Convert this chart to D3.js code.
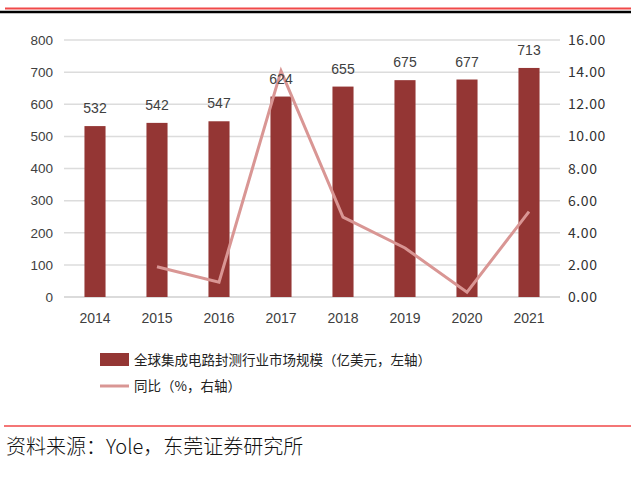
<!DOCTYPE html>
<html>
<head>
<meta charset="utf-8">
<script src="https://cdn.jsdelivr.net/npm/d3@7"></script>
<style>
	body { margin: 0; background: #fff; }
	svg { display: block; }
	.tick-label { font-family: "Liberation Sans", Arial, sans-serif; fill: #404040; }
</style>
</head>
<body>
<svg id="chart" width="631" height="478"></svg>
<script>
// chart data
var years = ['2014', '2015', '2016', '2017', '2018', '2019', '2020', '2021'];
var marketSize = [532, 542, 547, 624, 655, 675, 677, 713];
var yoyYears = ['2015', '2016', '2017', '2018', '2019', '2020', '2021'];
var yoyRate = [1.88, 0.92, 14.08, 4.97, 3.05, 0.30, 5.32];
var leftTicks = [0, 100, 200, 300, 400, 500, 600, 700, 800];
var rightTicks = [0, 2, 4, 6, 8, 10, 12, 14, 16];
var legendLabels = ['全球集成电路封测行业市场规模（亿美元，左轴）', '同比（%，右轴）'];
var sourceText = '资料来源：Yole，东莞证券研究所';

var barColor = '#943634';
var lineColor = '#d99694';

var svg = d3.select('#chart');

// header rules
svg.append('line').attr('x1', 5).attr('x2', 631).attr('y1', 8.5).attr('y2', 8.5)
	.attr('stroke', '#f04848').attr('stroke-width', 2);
svg.append('line').attr('x1', 0).attr('x2', 631).attr('y1', 12).attr('y2', 12)
	.attr('stroke', '#000').attr('stroke-width', 2.5);

var plot = { left: 64, right: 560, top: 40, bottom: 297 };

var x = d3.scaleBand()
	.domain(years)
	.range([plot.left, plot.right])
	.paddingInner(0.66)
	.paddingOuter(0.33);

var yLeft = d3.scaleLinear().domain([0, 800]).range([plot.bottom, plot.top]);
var yRight = d3.scaleLinear().domain([0, 16]).range([plot.bottom, plot.top]);

// gridlines
svg.append('g')
	.selectAll('line')
	.data(leftTicks)
	.enter()
	.append('line')
	.attr('x1', plot.left)
	.attr('x2', plot.right)
	.attr('y1', function(d) { return yLeft(d); })
	.attr('y2', function(d) { return yLeft(d); })
	.attr('stroke', function(d) { return d === 0 ? '#cfcfcf' : '#dcdcdc'; })
	.attr('stroke-width', 1.5);

// left axis labels
svg.append('g')
	.selectAll('text')
	.data(leftTicks)
	.enter()
	.append('text')
	.attr('class', 'tick-label')
	.attr('x', 53)
	.attr('y', function(d) { return yLeft(d); })
	.attr('dy', '0.36em')
	.attr('text-anchor', 'end')
	.style('font-size', '13.5px')
	.text(function(d) { return d; });

// right axis labels
var fmt = d3.format('.2f');
svg.append('g')
	.selectAll('text')
	.data(rightTicks)
	.enter()
	.append('text')
	.attr('x', 568)
	.attr('y', function(d) { return yRight(d); })
	.attr('dy', '0.36em')
	.style('font-family', '"Noto Sans CJK SC", sans-serif')
	.style('font-size', '14px')
	.style('letter-spacing', '0.6px')
	.style('fill', '#333')
	.text(function(d) { return fmt(d); });

// x labels
svg.append('g')
	.selectAll('text')
	.data(years)
	.enter()
	.append('text')
	.attr('class', 'tick-label')
	.attr('x', function(d) { return x(d) + x.bandwidth() / 2; })
	.attr('y', 318)
	.attr('dy', '0.36em')
	.attr('text-anchor', 'middle')
	.style('font-size', '14px')
	.text(function(d) { return d; });

// bars
svg.append('g')
	.selectAll('rect')
	.data(marketSize)
	.enter()
	.append('rect')
	.attr('x', function(d, i) { return x(years[i]); })
	.attr('y', function(d) { return yLeft(d); })
	.attr('width', x.bandwidth())
	.attr('height', function(d) { return plot.bottom - yLeft(d); })
	.attr('fill', barColor);

// yoy line
var line = d3.line()
	.x(function(d, i) { return x(yoyYears[i]) + x.bandwidth() / 2; })
	.y(function(d) { return yRight(d); });

svg.append('path')
	.datum(yoyRate)
	.attr('d', line)
	.attr('fill', 'none')
	.attr('stroke', lineColor)
	.attr('stroke-width', 3)
	.attr('stroke-linejoin', 'miter');

// bar value labels
svg.append('g')
	.selectAll('text')
	.data(marketSize)
	.enter()
	.append('text')
	.attr('class', 'tick-label')
	.attr('x', function(d, i) { return x(years[i]) + x.bandwidth() / 2; })
	.attr('y', function(d) { return yLeft(d) - 13; })
	.attr('text-anchor', 'middle')
	.style('font-size', '14px')
	.text(function(d) { return d; });

// legend
var legend = svg.append('g')
	.style('font-family', '"Noto Sans CJK SC", sans-serif')
	.style('font-size', '13.5px')
	.style('fill', '#222');

legend.append('rect')
	.attr('x', 100).attr('y', 353).attr('width', 29).attr('height', 13)
	.attr('fill', barColor);
legend.append('text')
	.attr('x', 134).attr('y', 360).attr('dy', '0.36em')
	.text(legendLabels[0]);

legend.append('line')
	.attr('x1', 100).attr('x2', 129).attr('y1', 386).attr('y2', 386)
	.attr('stroke', lineColor).attr('stroke-width', 3);
legend.append('text')
	.attr('x', 134).attr('y', 386).attr('dy', '0.36em')
	.text(legendLabels[1]);

// footer
svg.append('line').attr('x1', 4).attr('x2', 631).attr('y1', 426).attr('y2', 426)
	.attr('stroke', '#f04848').attr('stroke-width', 1.5);
svg.append('text')
	.attr('x', 6).attr('y', 447).attr('dy', '0.36em')
	.style('font-family', '"Noto Sans CJK SC", sans-serif')
	.style('font-weight', 300)
	.style('font-size', '20px')
	.style('fill', '#111')
	.text(sourceText);
</script>
</body>
</html>
